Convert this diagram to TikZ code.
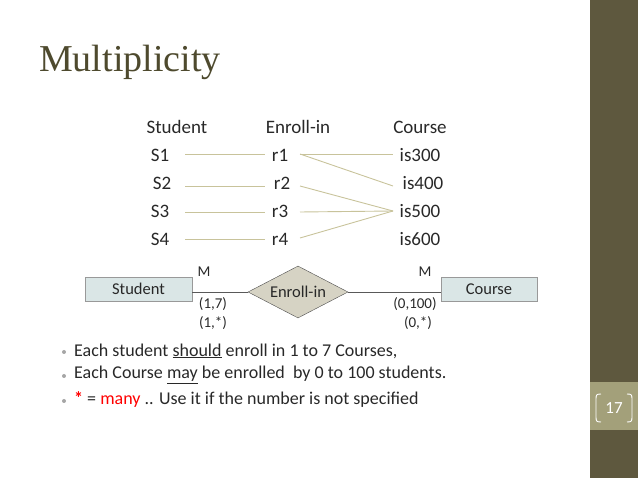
\documentclass[tikz,border=0pt]{standalone}
\usepackage{fontspec}
\setmainfont{Carlito}
\newfontfamily\titlefont{Liberation Serif}
\usetikzlibrary{shapes.geometric}
\definecolor{olive}{RGB}{94,88,62}
\definecolor{lolive}{RGB}{163,160,122}
\definecolor{titlec}{RGB}{78,74,46}
\definecolor{tan}{RGB}{200,195,155}
\definecolor{txt}{RGB}{40,40,40}
\definecolor{ent}{RGB}{218,230,230}
\definecolor{rel}{RGB}{214,211,196}
\begin{document}
\begin{tikzpicture}[x=1pt,y=-1pt,
  lbl/.style={font=\fontsize{19}{21}\selectfont,text=txt,inner sep=0},
  sm/.style={font=\fontsize{15}{17}\selectfont,text=txt,inner sep=0},
  tl/.style={draw=tan,line width=0.9pt},
  entbox/.style={draw=gray!80,fill=ent,minimum width=107pt,minimum height=24pt,font=\fontsize{16.5}{18}\selectfont,text=txt},
  bul/.style={font=\fontsize{18}{20}\selectfont,text=txt,anchor=west,inner sep=0}]
\useasboundingbox (0,0) rectangle (638,478);
\fill[olive] (590,0) rectangle (638,478);
\fill[lolive] (590,382) rectangle (638,430);
\node[anchor=west,inner sep=0,font=\titlefont\fontsize{38}{42}\selectfont,text=titlec] (title) at (39,62) {Multiplicity};
\node[lbl] (hs) at (177,127) {Student};
\node[lbl] (hr) at (298,127) {Enroll-in};
\node[lbl] (hc) at (420,127) {Course};
\foreach \i/\y/\sx/\rx in {1/155/160/280,2/183/162/282,3/211/160/280,4/239/160/280}{
  \node[lbl] (s\i) at (\sx,\y) {S\i};
  \node[lbl] (r\i) at (\rx,\y) {r\i};
}
\node[lbl] (c300) at (420,155) {is300};
\node[lbl] (c400) at (423,183) {is400};
\node[lbl] (c500) at (420,211) {is500};
\node[lbl] (c600) at (420,239) {is600};
\coordinate (a1) at (185,154); \coordinate (b1) at (265,154);
\coordinate (a2) at (185,186); \coordinate (b2) at (265,186);
\coordinate (a3) at (185,212); \coordinate (b3) at (265,212);
\coordinate (a4) at (185,239); \coordinate (b4) at (265,239);
\foreach \i in {1,...,4}{\draw[tl] (a\i) -- (b\i);}
\coordinate (p1) at (300,154); \coordinate (q300) at (393,154);
\coordinate (q400) at (393,186); \coordinate (q500) at (393,211);
\coordinate (p2) at (300,186); \coordinate (p3) at (300,212); \coordinate (p4) at (300,238);
\draw[tl] (p1) -- (q300); \draw[tl] (p1) -- (q400);
\draw[tl] (p2) -- (q500); \draw[tl] (p3) -- (q500); \draw[tl] (p4) -- (q500);
\node[entbox] (st) at (138.5,289) {Student};
\node[entbox,minimum width=96pt] (co) at (489,289) {Course};
\node[diamond,draw=gray!60!black,fill=rel,aspect=1.9,minimum width=100pt,minimum height=52pt,inner sep=0,font=\fontsize{16.5}{18}\selectfont,text=txt] (en) at (298,292) {Enroll-in};
\draw[gray!70!black,line width=0.8pt] (st.east|-en) -- (en.west);
\draw[gray!70!black,line width=0.8pt] (en.east) -- (co.west|-en);
\node[sm] (m1) at (204,272) {M};
\node[sm] (m2) at (425,272) {M};
\node[sm] (l1) at (213,304) {(1,7)};
\node[sm] (l2) at (213,323) {(1,*)};
\node[sm] (l3) at (415,304) {(0,100)};
\node[sm] (l4) at (418,323) {(0,*)};
\foreach \y in {352,376,401}{\fill[gray!70] (64,\y) circle (2pt);}
\node[bul] (t1) at (74,351) {Each student \underline{should} enroll in 1 to 7 Courses,};
\node[bul] (t2) at (74,375) {Each Course \underline{may} be enrolled\ \ by 0 to 100 students.};
\node[bul] (t3) at (74,400) {\textcolor{red}{\textbf{*}} = \textcolor{red}{many} .. Use it if the number is not specified};
\node[font=\fontsize{17}{19}\selectfont,text=white] (pg) at (614,408) {17};
\draw[white,line width=0.9pt] (601,394) .. controls (596,394) and (596,395) .. (596,400) -- (596,416) .. controls (596,421) and (596,422) .. (601,422);
\draw[white,line width=0.9pt] (627,394) .. controls (632,394) and (632,395) .. (632,400) -- (632,416) .. controls (632,421) and (632,422) .. (627,422);
\end{tikzpicture}
\end{document}
